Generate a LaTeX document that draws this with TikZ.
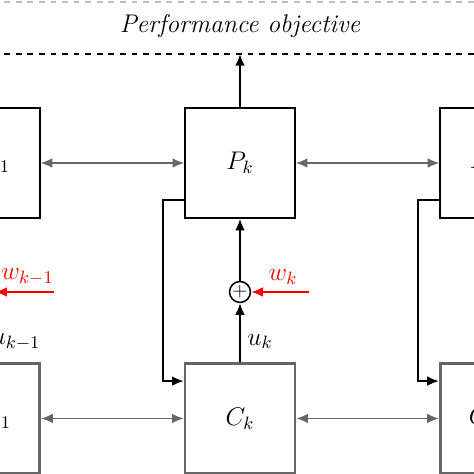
\RequirePackage{fix-cm}
\documentclass[tikz,border=0pt]{standalone}
\usepackage{amsmath}
\usetikzlibrary{calc}
\usetikzlibrary{arrows.meta}

\begin{document}
\begin{tikzpicture}[scale=1, font = \fontsize{13.2}{16}\selectfont,
	plant/.style = {draw, line width = 0.9pt, minimum width = 2cm, minimum height = 2cm},
	ctrl/.style = {draw = black!60, line width = 1.4pt, minimum width = 2cm, minimum height = 2cm},
	link/.style = {{Latex[length = 6pt, width = 5pt]}-{Latex[length = 6pt, width = 5pt]}, black!60, thick},
	sig/.style = {-{Latex[length = 6pt, width = 5pt]}, line width = 0.9pt},
	noise/.style = {-{Latex[length = 6pt, width = 5pt]}, red, line width = 0.9pt},
	sum/.style = {draw, circle, line width = 0.8pt, inner sep = 0pt, minimum size = 0.38cm, font = \fontsize{10}{10}\selectfont}]
	\useasboundingbox (-4.364, -5.655) rectangle (4.255, 2.964);
	\draw[black!25, dashed, thick] (-4.5, 2.93) -- (4.5, 2.93);
	\node (obj) at (0, 2.49) {\textit{Performance objective}};
	\draw[dashed, line width = 0.9pt] (-4.5, 1.98) coordinate (dl) -- (4.5, 1.98) coordinate (dr);
	\node[plant] (Pm) at (-4.64, 0) {$P_{k-1}$};
	\node[plant] (P) at (0, 0) {$P_k$};
	\node[plant] (Pp) at (4.64, 0) {$P_{k+1}$};
	\node[ctrl] (Cm) at (-4.64, -4.645) {$C_{k-1}$};
	\node[ctrl] (C) at (0, -4.645) {$C_k$};
	\node[ctrl] (Cp) at (4.64, -4.645) {$C_{k+1}$};
	\node[sum] (S) at (0, -2.345) {$+$};
	\coordinate (Sm) at (-4.45, -2.345);
	\coordinate (wk) at (1.255, -2.345);
	\coordinate (wkm) at (-3.385, -2.345);
	\draw[link] (Pm) -- (P);
	\draw[link] (P) -- (Pp);
	\draw[link] (Cm) -- (C);
	\draw[link] (C) -- (Cp);
	\draw[sig] (P.north) -- (P.north |- dl);
	\draw[sig] (C.north) -- node[right, pos = 0.35] (uk) {$u_k$} (S.south);
	\draw[sig] (S.north) -- (P.south);
	\draw[noise] (wk) -- node[above, pos = 0.45] (wlab) {$w_k$} (S.east);
	\draw[noise] (wkm) -- node[above, pos = 0.45] (wlabm) {$w_{k-1}$} (Sm);
	\node[right] (ukm) at (-4.64, -3.25) {$u_{k-1}$};
	\draw[sig] ($(P.south west)+(0, 0.345)$) -- ++(-0.382, 0) |- ($(C.north west)+(0, -0.345)$);
	\draw[sig] ($(Pp.south west)+(0, 0.345)$) -- ++(-0.382, 0) |- ($(Cp.north west)+(0, -0.345)$);
\end{tikzpicture}
\end{document}
